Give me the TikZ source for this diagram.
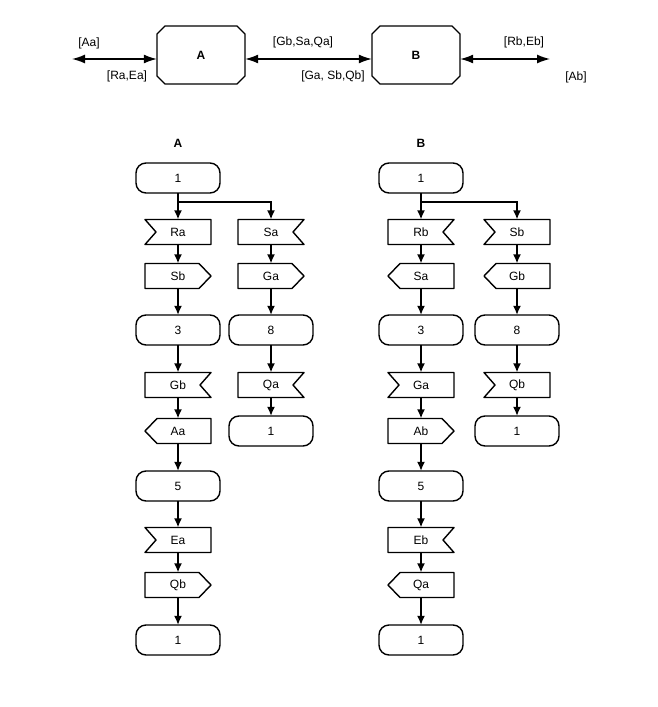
\documentclass[tikz,border=0pt]{standalone}
\usepackage{fontspec}
\setmainfont{Liberation Sans}
\usetikzlibrary{arrows.meta}
\newcommand\hw{33}
\newcommand\hh{12.5}
\newcommand\St[4]{\draw[sh,rounded corners=10pt] ({#2-42},{#3-15}) rectangle ({#2+42},{#3+15});
 \node[lbl,minimum width=84pt,minimum height=30pt] (#1) at (#2,#3) {#4};}
\newcommand\InL[4]{\draw[sh] ({#2-\hw},{#3-\hh}) -- ({#2+\hw},{#3-\hh}) -- ({#2+\hw},{#3+\hh}) -- ({#2-\hw},{#3+\hh}) -- ({#2-\hw+11},{#3}) -- cycle;
 \node[lbl] (#1) at (#2,#3) {#4};}
\newcommand\InR[4]{\draw[sh] ({#2-\hw},{#3-\hh}) -- ({#2+\hw},{#3-\hh}) -- ({#2+\hw-11},{#3}) -- ({#2+\hw},{#3+\hh}) -- ({#2-\hw},{#3+\hh}) -- cycle;
 \node[lbl] (#1) at (#2,#3) {#4};}
\newcommand\OutR[4]{\draw[sh] ({#2-\hw},{#3-\hh}) -- ({#2+\hw-12},{#3-\hh}) -- ({#2+\hw},{#3}) -- ({#2+\hw-12},{#3+\hh}) -- ({#2-\hw},{#3+\hh}) -- cycle;
 \node[lbl] (#1) at (#2,#3) {#4};}
\newcommand\OutL[4]{\draw[sh] ({#2+\hw},{#3-\hh}) -- ({#2-\hw+12},{#3-\hh}) -- ({#2-\hw},{#3}) -- ({#2-\hw+12},{#3+\hh}) -- ({#2+\hw},{#3+\hh}) -- cycle;
 \node[lbl] (#1) at (#2,#3) {#4};}
\newcommand\Blk[4]{\draw[sh] ({#2-44},{#3-21}) -- ({#2-36},{#3-29}) -- ({#2+36},{#3-29}) -- ({#2+44},{#3-21}) -- ({#2+44},{#3+21}) -- ({#2+36},{#3+29}) -- ({#2-36},{#3+29}) -- ({#2-44},{#3+21}) -- cycle;
 \node[lbl,font=\bfseries\fontsize{12}{14}\selectfont,minimum width=88pt,minimum height=58pt] (#1) at (#2,#3) {#4};}
\begin{document}
\begin{tikzpicture}[x=1pt,y=-1pt,
 sh/.style={draw,line width=1.4pt,line join=round},
 lbl/.style={inner sep=0pt,minimum width=66pt,minimum height=25pt,font=\fontsize{12}{14}\selectfont},
 ar/.style={line width=1.4pt,-{Latex[length=9pt,width=8pt]}},
 dar/.style={line width=1.4pt,{Latex[length=13pt,width=9pt]}-{Latex[length=13pt,width=9pt]}},
 tx/.style={font=\fontsize{12}{14}\selectfont,inner sep=1pt}]
\useasboundingbox (0,0) rectangle (657,707);
% top
\Blk{bA}{201}{55}{A}
\Blk{bB}{416}{55}{B}
\coordinate (eL) at (72,59);
\coordinate (eR) at (550,59);
\draw[dar] (eL) -- (bA.west |- eL);
\draw[dar] (bA.east |- eL) -- (bB.west |- eL);
\draw[dar] (bB.east |- eR) -- (eR);
\node[tx] (t1) at (89,43) {[Aa]};
\node[tx] (t2) at (127,76) {[Ra,Ea]};
\node[tx] (t3) at (303,42) {[Gb,Sa,Qa]};
\node[tx] (t4) at (333,76) {[Ga, Sb,Qb]};
\node[tx] (t5) at (524,42) {[Rb,Eb]};
\node[tx] (t6) at (576,77) {[Ab]};
\node[tx,font=\bfseries\fontsize{12}{14}\selectfont] (hA) at (178,143) {A};
\node[tx,font=\bfseries\fontsize{12}{14}\selectfont] (hB) at (421,143) {B};
% process A
\St{a1}{178}{178}{1}
\InL{a2}{178}{232}{Ra}
\OutR{a3}{178}{276}{Sb}
\St{a4}{178}{330}{3}
\InR{a5}{178}{385}{Gb}
\OutL{a6}{178}{431}{Aa}
\St{a7}{178}{486}{5}
\InL{a8}{178}{540}{Ea}
\OutR{a9}{178}{585}{Qb}
\St{a10}{178}{640}{1}
\InR{b2}{271}{232}{Sa}
\OutR{b3}{271}{276}{Ga}
\St{b4}{271}{330}{8}
\InR{b5}{271}{385}{Qa}
\St{b6}{271}{431}{1}
\coordinate (jA) at (178,202);
\draw[ar] (jA) -| (b2.north);
\foreach \p/\q in {a1/a2,a2/a3,a3/a4,a4/a5,a5/a6,a6/a7,a7/a8,a8/a9,a9/a10,b2/b3,b3/b4,b4/b5,b5/b6}
  \draw[ar] (\p.south) -- (\q.north);
% process B
\St{c1}{421}{178}{1}
\InR{c2}{421}{232}{Rb}
\OutL{c3}{421}{276}{Sa}
\St{c4}{421}{330}{3}
\InL{c5}{421}{385}{Ga}
\OutR{c6}{421}{431}{Ab}
\St{c7}{421}{486}{5}
\InR{c8}{421}{540}{Eb}
\OutL{c9}{421}{585}{Qa}
\St{c10}{421}{640}{1}
\InL{d2}{517}{232}{Sb}
\OutL{d3}{517}{276}{Gb}
\St{d4}{517}{330}{8}
\InL{d5}{517}{385}{Qb}
\St{d6}{517}{431}{1}
\coordinate (jB) at (421,202);
\draw[ar] (jB) -| (d2.north);
\foreach \p/\q in {c1/c2,c2/c3,c3/c4,c4/c5,c5/c6,c6/c7,c7/c8,c8/c9,c9/c10,d2/d3,d3/d4,d4/d5,d5/d6}
  \draw[ar] (\p.south) -- (\q.north);
\end{tikzpicture}
\end{document}
